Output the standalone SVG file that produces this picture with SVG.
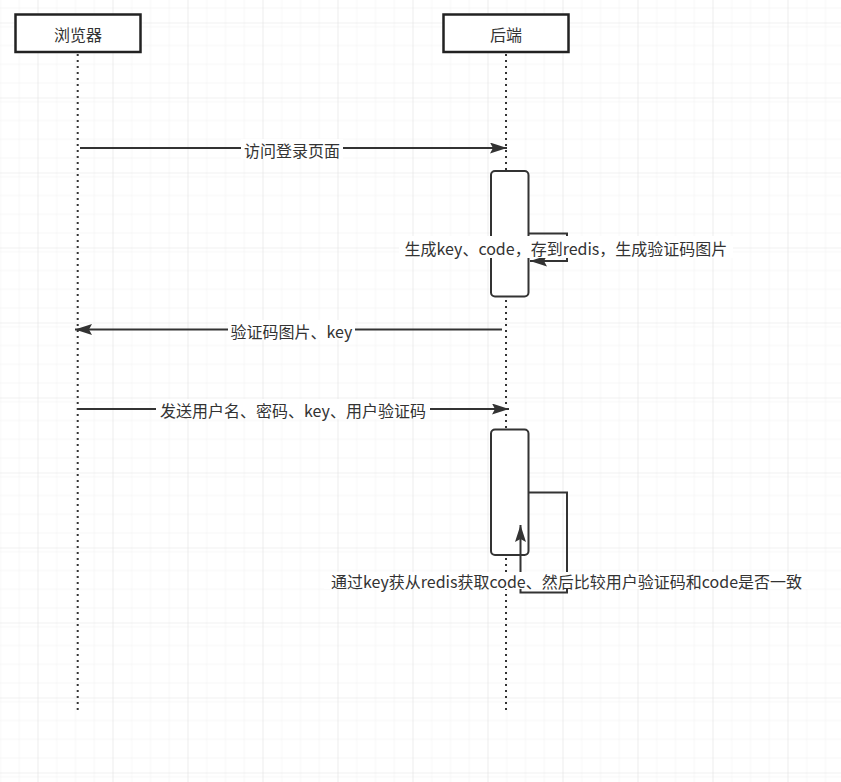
<svg xmlns="http://www.w3.org/2000/svg" width="841" height="782" viewBox="0 0 841 782">
  <defs>
    <pattern id="minor" x="37.5" y="22.5" width="18.75" height="18.75" patternUnits="userSpaceOnUse">
      <path d="M0,0 H18.75 M0,0 V18.75" fill="none" stroke="#f0f0f0" stroke-width="1"/>
    </pattern>
    <pattern id="major" x="37.5" y="22.5" width="75" height="75" patternUnits="userSpaceOnUse">
      <rect width="75" height="75" fill="url(#minor)"/>
      <path d="M0,0 H75 M0,0 V75" fill="none" stroke="#e2e2e2" stroke-width="1"/>
    </pattern>
    <marker id="head" viewBox="0 0 17 11" refX="17" refY="5.5" markerWidth="17" markerHeight="11" markerUnits="userSpaceOnUse" orient="auto">
      <path d="M0,0 L17,5.5 L0,11 L3,5.5 Z" fill="#333"/>
    </marker>
  </defs>
  <style>
    .lbl { font-family: "Noto Sans CJK SC", "Noto Sans", sans-serif; font-size: 16px; fill: #333; text-anchor: middle; dominant-baseline: central; }
    .box { fill: #fff; stroke: #222; stroke-width: 2.5; }
    .act { fill: #fff; stroke: #333; stroke-width: 2; }
    .life { stroke: #333; stroke-width: 2; stroke-dasharray: 2 4; fill: none; }
    .msg { stroke: #333; stroke-width: 2; fill: none; }
    .bg { fill: #fff; }
  </style>
  <rect width="841" height="782" fill="#fff"/>
  <rect width="841" height="782" fill="url(#major)"/>

  <g id="lifelines">
    <line class="life" x1="77.7" y1="54" x2="77.7" y2="712"/>
    <line class="life" x1="506" y1="54" x2="506" y2="712"/>
  </g>

  <g id="browser">
    <rect class="box" x="15.5" y="14.5" width="125" height="37.5"/>
    <text class="lbl" x="78" y="33.5">浏览器</text>
  </g>
  <g id="backend">
    <rect class="box" x="443.5" y="14.5" width="125" height="37.5"/>
    <text class="lbl" x="506" y="33.5">后端</text>
  </g>

  <g id="activation1">
    <rect class="act" x="491" y="171" width="37.5" height="125.5" rx="4" ry="4"/>
  </g>
  <g id="activation2">
    <rect class="act" x="491" y="429.5" width="37.5" height="125.5" rx="4" ry="4"/>
  </g>

  <g id="connectors">
    <line class="msg" x1="80" y1="148" x2="507" y2="148" marker-end="url(#head)"/>
    <rect class="bg" x="241" y="139" width="102" height="20"/>
    <text class="lbl" x="292" y="149.5">访问登录页面</text>

    <path class="msg" d="M528.5,233.5 H567 V261 H530" marker-end="url(#head)"/>
    <rect class="bg" x="399" y="236" width="334" height="22"/>
    <text class="lbl" x="566" y="247.5">生成key、code，存到redis，生成验证码图片</text>

    <line class="msg" x1="502" y1="329.5" x2="75" y2="329.5" marker-end="url(#head)"/>
    <rect class="bg" x="228" y="320" width="127" height="20"/>
    <text class="lbl" x="291.5" y="330.5">验证码图片、key</text>

    <line class="msg" x1="77" y1="409" x2="509" y2="409" marker-end="url(#head)"/>
    <rect class="bg" x="156" y="399" width="274" height="20"/>
    <text class="lbl" x="293" y="409.5">发送用户名、密码、key、用户验证码</text>

    <path class="msg" d="M528.5,492.5 H567 V592.5 H520.5 V525" marker-end="url(#head)"/>
    <rect class="bg" x="324" y="572" width="486" height="17"/>
    <text class="lbl" x="566.5" y="580.5">通过key获从redis获取code、然后比较用户验证码和code是否一致</text>
  </g>
</svg>
